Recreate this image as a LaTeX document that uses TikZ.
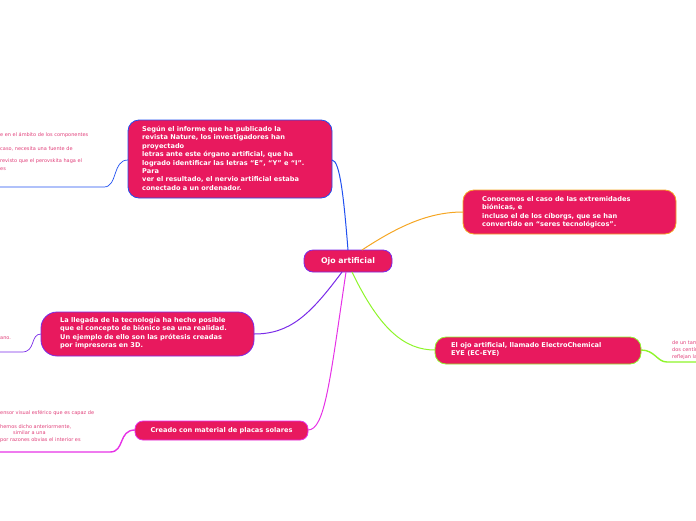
\documentclass[tikz,border=0pt]{standalone}
\usepackage{fontspec}
\setmainfont{DejaVu Sans}
\begin{document}
\begin{tikzpicture}[x=1pt,y=-1pt]
\definecolor{fillc}{HTML}{E8195E}
\definecolor{cblue}{HTML}{2050F0}
\definecolor{corange}{HTML}{F5A623}
\definecolor{cviolet}{HTML}{7A2BE8}
\definecolor{cgreen}{HTML}{8EF52A}
\definecolor{cmag}{HTML}{E632E6}
\definecolor{leafc}{HTML}{E0407A}
\tikzset{box/.style={fill=fillc,rounded corners=11pt,line width=0.8pt},
 txt/.style={text=white,font=\bfseries\fontsize{6.6}{8.4}\selectfont,align=left,anchor=north west,inner sep=0},
 leaf/.style={text=leafc,font=\fontsize{5}{5.5}\selectfont,anchor=west,inner sep=0},
 con/.style={line width=1pt}}
\useasboundingbox (0,0) rectangle (696,520);
\clip (0,0) rectangle (696,520);
% nodes
\draw[box,draw=cblue] (128,120) rectangle (332,198);
\node[txt] (n1) at (142,126) {Según el informe que ha publicado la\\revista Nature, los investigadores han\\proyectado\\letras ante este órgano artificial, que ha\\logrado identificar las letras “E”, “Y” e “I”.\\Para\\ver el resultado, el nervio artificial estaba\\conectado a un ordenador.};
\draw[box,draw=corange] (463,190) rectangle (676,234);
\node[txt] (n2) at (482,196) {Conocemos el caso de las extremidades\\biónicas, e\\incluso el de los cíborgs, que se han\\convertido en “seres tecnológicos”.};
\draw[box,draw=cgreen] (435,337) rectangle (641,364);
\node[txt] (n3) at (451,342) {El ojo artificial, llamado ElectroChemical\\EYE (EC-EYE)};
\draw[box,draw=cviolet,rounded corners=16pt] (41,312) rectangle (254,356);
\node[txt] (n4) at (60,317) {La llegada de la tecnología ha hecho posible\\que el concepto de biónico sea una realidad.\\Un ejemplo de ello son las prótesis creadas\\por impresoras en 3D.};
\draw[box,draw=cmag,rounded corners=8pt] (135,421) rectangle (308,440);
\node[txt,anchor=center] (n5) at (221.5,430.5) {Creado con material de placas solares};
\draw[box,draw=cviolet,rounded corners=9pt] (304,250) rectangle (392,272);
\node[txt,anchor=center,font=\bfseries\fontsize{7.8}{9}\selectfont] (c) at (348,261) {Ojo artificial};
% connectors from center
\draw[con,cblue] (348,250) .. controls (344,200) and (340,160) .. (332,160);
\draw[con,corange] (362,250) .. controls (400,225) and (430,212) .. (463,212);
\draw[con,cgreen] (352,272) .. controls (380,330) and (405,350) .. (435,350);
\draw[con,cviolet] (342,272) .. controls (310,315) and (290,334) .. (254,334);
\draw[con,cmag] (346,272) .. controls (330,380) and (325,430) .. (308,430);
% leaf connectors
\draw[con,cblue,line width=0.7pt] (128,160) .. controls (112,160) and (118,187) .. (104,187) -- (0,187);
\draw[con,cviolet,line width=0.7pt] (41,334) .. controls (30,334) and (36,352) .. (22,352) -- (0,352);
\draw[con,cmag,line width=1.4pt] (135,430) .. controls (118,430) and (125,452) .. (110,452) -- (0,452);
\draw[con,cgreen,line width=1.4pt] (641,350) .. controls (655,350) and (657,362) .. (667,362) -- (696,362);
% leaf texts
\node[leaf] (l1) at (0,135.5) {e en el ámbito de los componentes};
\node[leaf] (l2) at (0,148.5) {caso, necesita una fuente de};
\node[leaf] (l3) at (0,161.5) {revisto que el perovskita haga el};
\node[leaf] (l4) at (0,169) {es};
\node[leaf] (l5) at (0,338) {ano.};
\node[leaf] (l6) at (0,413.5) {ensor visual esférico que es capaz de};
\node[leaf] (l7) at (0,426.5) {hemos dicho anteriormente,};
\node[leaf] (l8) at (13,433) {similar a una};
\node[leaf] (l9) at (0,440.5) {por razones obvias el interior es};
\node[leaf] (r1) at (672,343) {de un tamaño};
\node[leaf] (r2) at (672,350) {dos centímetros};
\node[leaf] (r3) at (672,357) {reflejan la luz};
\end{tikzpicture}
\end{document}
